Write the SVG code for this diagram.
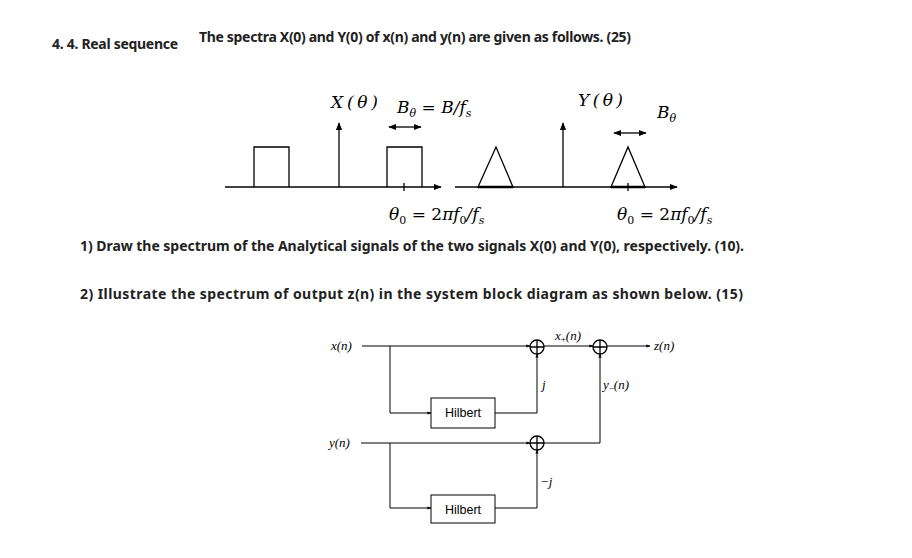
<svg xmlns="http://www.w3.org/2000/svg" width="912" height="558" viewBox="0 0 912 558">
<defs>
<marker id="ah" viewBox="0 0 10 10" refX="9" refY="5" markerWidth="6" markerHeight="6" orient="auto-start-reverse"><path d="M0,1 L10,5 L0,9 z" fill="#000"/></marker>
<marker id="as" viewBox="0 0 10 10" refX="9" refY="5" markerWidth="4" markerHeight="4" orient="auto"><path d="M0,1 L10,5 L0,9 z" fill="#000"/></marker>
</defs>
<style>
.h{font-family:"Noto Sans","Liberation Sans",sans-serif;font-weight:bold;font-size:14px;fill:#222}
.m{font-family:"DejaVu Serif","Liberation Serif",serif;font-style:italic;font-size:17px}
.s{font-family:"Liberation Serif",serif;font-style:italic;font-size:13px}
.b{font-family:"Liberation Sans",sans-serif;font-size:12.5px}
.l{stroke:#000;stroke-width:1.3;fill:none}
.t{stroke:#000;stroke-width:1;fill:none}
</style>
<rect width="912" height="558" fill="#fff"/>
<text class="h" x="52" y="49" textLength="126">4. 4. Real sequence</text>
<text class="h" x="199" y="42" textLength="432">The spectra X(0) and Y(0) of x(n) and y(n) are given as follows. (25)</text>
<text class="h" x="80" y="251" textLength="664">1) Draw the spectrum of the Analytical signals of the two signals X(0) and Y(0), respectively. (10).</text>
<text class="h" x="80" y="299" textLength="663">2) Illustrate the spectrum of output z(n) in the system block diagram as shown below. (15)</text>

<g id="spectrum-x">
<line class="l" x1="225" y1="187" x2="441" y2="187" marker-end="url(#ah)"/>
<polyline class="l" points="254,187 254,147 289,147 289,187"/>
<polyline class="l" points="387,187 387,147 422,147 422,187"/>
<line class="l" x1="404" y1="183" x2="404" y2="191"/>
<line class="l" x1="339" y1="187" x2="339" y2="123" marker-end="url(#ah)"/>
<line class="l" x1="389" y1="127" x2="421" y2="127" marker-start="url(#ah)" marker-end="url(#ah)"/>
<text class="m" x="331" y="108" textLength="47">X(θ)</text>
<text class="m" x="397" y="113">B<tspan font-size="11" dy="4">θ</tspan><tspan dy="-4" font-style="normal"> = </tspan>B/f<tspan font-size="11" dy="4">s</tspan></text>
<text class="m" x="389" y="220">θ<tspan font-size="11" dy="4" font-style="normal">0</tspan><tspan dy="-4" font-style="normal"> = 2</tspan>πf<tspan font-size="11" dy="4" font-style="normal">0</tspan><tspan dy="-4">/f</tspan><tspan font-size="11" dy="4">s</tspan></text>
</g>
<g id="spectrum-y">
<line class="l" x1="455" y1="187" x2="677" y2="187" marker-end="url(#ah)"/>
<polygon class="l" points="478,187 496,147 513,187"/>
<line x1="478" y1="187" x2="513" y2="187" stroke="#000" stroke-width="2.5"/>
<polygon class="l" points="611,187 628,147 645,187"/>
<line x1="611" y1="187" x2="645" y2="187" stroke="#000" stroke-width="2.5"/>
<line class="l" x1="628" y1="183" x2="628" y2="191"/>
<line class="l" x1="563" y1="187" x2="563" y2="123" marker-end="url(#ah)"/>
<line class="l" x1="614" y1="133" x2="646" y2="133" marker-start="url(#ah)" marker-end="url(#ah)"/>
<text class="m" x="578" y="106" textLength="45">Y(θ)</text>
<text class="m" x="657" y="118">B<tspan font-size="11" dy="4">θ</tspan></text>
<text class="m" x="617" y="220">θ<tspan font-size="11" dy="4" font-style="normal">0</tspan><tspan dy="-4" font-style="normal"> = 2</tspan>πf<tspan font-size="11" dy="4" font-style="normal">0</tspan><tspan dy="-4">/f</tspan><tspan font-size="11" dy="4">s</tspan></text>
</g>

<g id="labels">
<text class="s" x="331" y="350">x(n)</text>
<text class="s" x="329" y="447">y(n)</text>
<text class="s" x="654" y="350">z(n)</text>
<text class="s" x="555" y="340">x<tspan font-size="9" dy="2" font-style="normal">+</tspan><tspan dy="-2">(n)</tspan></text>
<text class="s" x="603" y="389">y<tspan font-size="9" dy="2" font-style="normal">−</tspan><tspan dy="-2">(n)</tspan></text>
<text class="s" x="542" y="389">j</text>
<text class="s" x="540" y="486">−j</text>
</g>
<g id="hilbert1"><rect class="t" x="431" y="398" width="64" height="30"/><text class="b" x="463" y="417" text-anchor="middle">Hilbert</text></g>
<g id="hilbert2"><rect class="t" x="431" y="495" width="64" height="28"/><text class="b" x="463" y="514" text-anchor="middle">Hilbert</text></g>
<g id="sum1"><circle class="l" cx="537" cy="347" r="7"/><path class="l" d="M530,347H544M537,340V354"/></g>
<g id="sum2"><circle class="l" cx="600" cy="347" r="7"/><path class="l" d="M593,347H607M600,340V354"/></g>
<g id="sum3"><circle class="l" cx="537" cy="443" r="7"/><path class="l" d="M530,443H544M537,436V450"/></g>
<g id="connectors">
<line class="t" x1="362" y1="346" x2="530" y2="346" marker-end="url(#as)"/>
<polyline class="t" points="390,346 390,413 431,413" marker-end="url(#as)"/>
<polyline class="t" points="495,413 537,413 537,354" marker-end="url(#as)"/>
<line class="t" x1="544" y1="346" x2="593" y2="346" marker-end="url(#as)"/>
<line class="t" x1="607" y1="346" x2="650" y2="346" marker-end="url(#as)"/>
<line class="t" x1="361" y1="443" x2="530" y2="443" marker-end="url(#as)"/>
<polyline class="t" points="390,443 390,508 431,508" marker-end="url(#as)"/>
<polyline class="t" points="495,508 537,508 537,450" marker-end="url(#as)"/>
<polyline class="t" points="544,443 600,443 600,354" marker-end="url(#as)"/>
</g>
</svg>
